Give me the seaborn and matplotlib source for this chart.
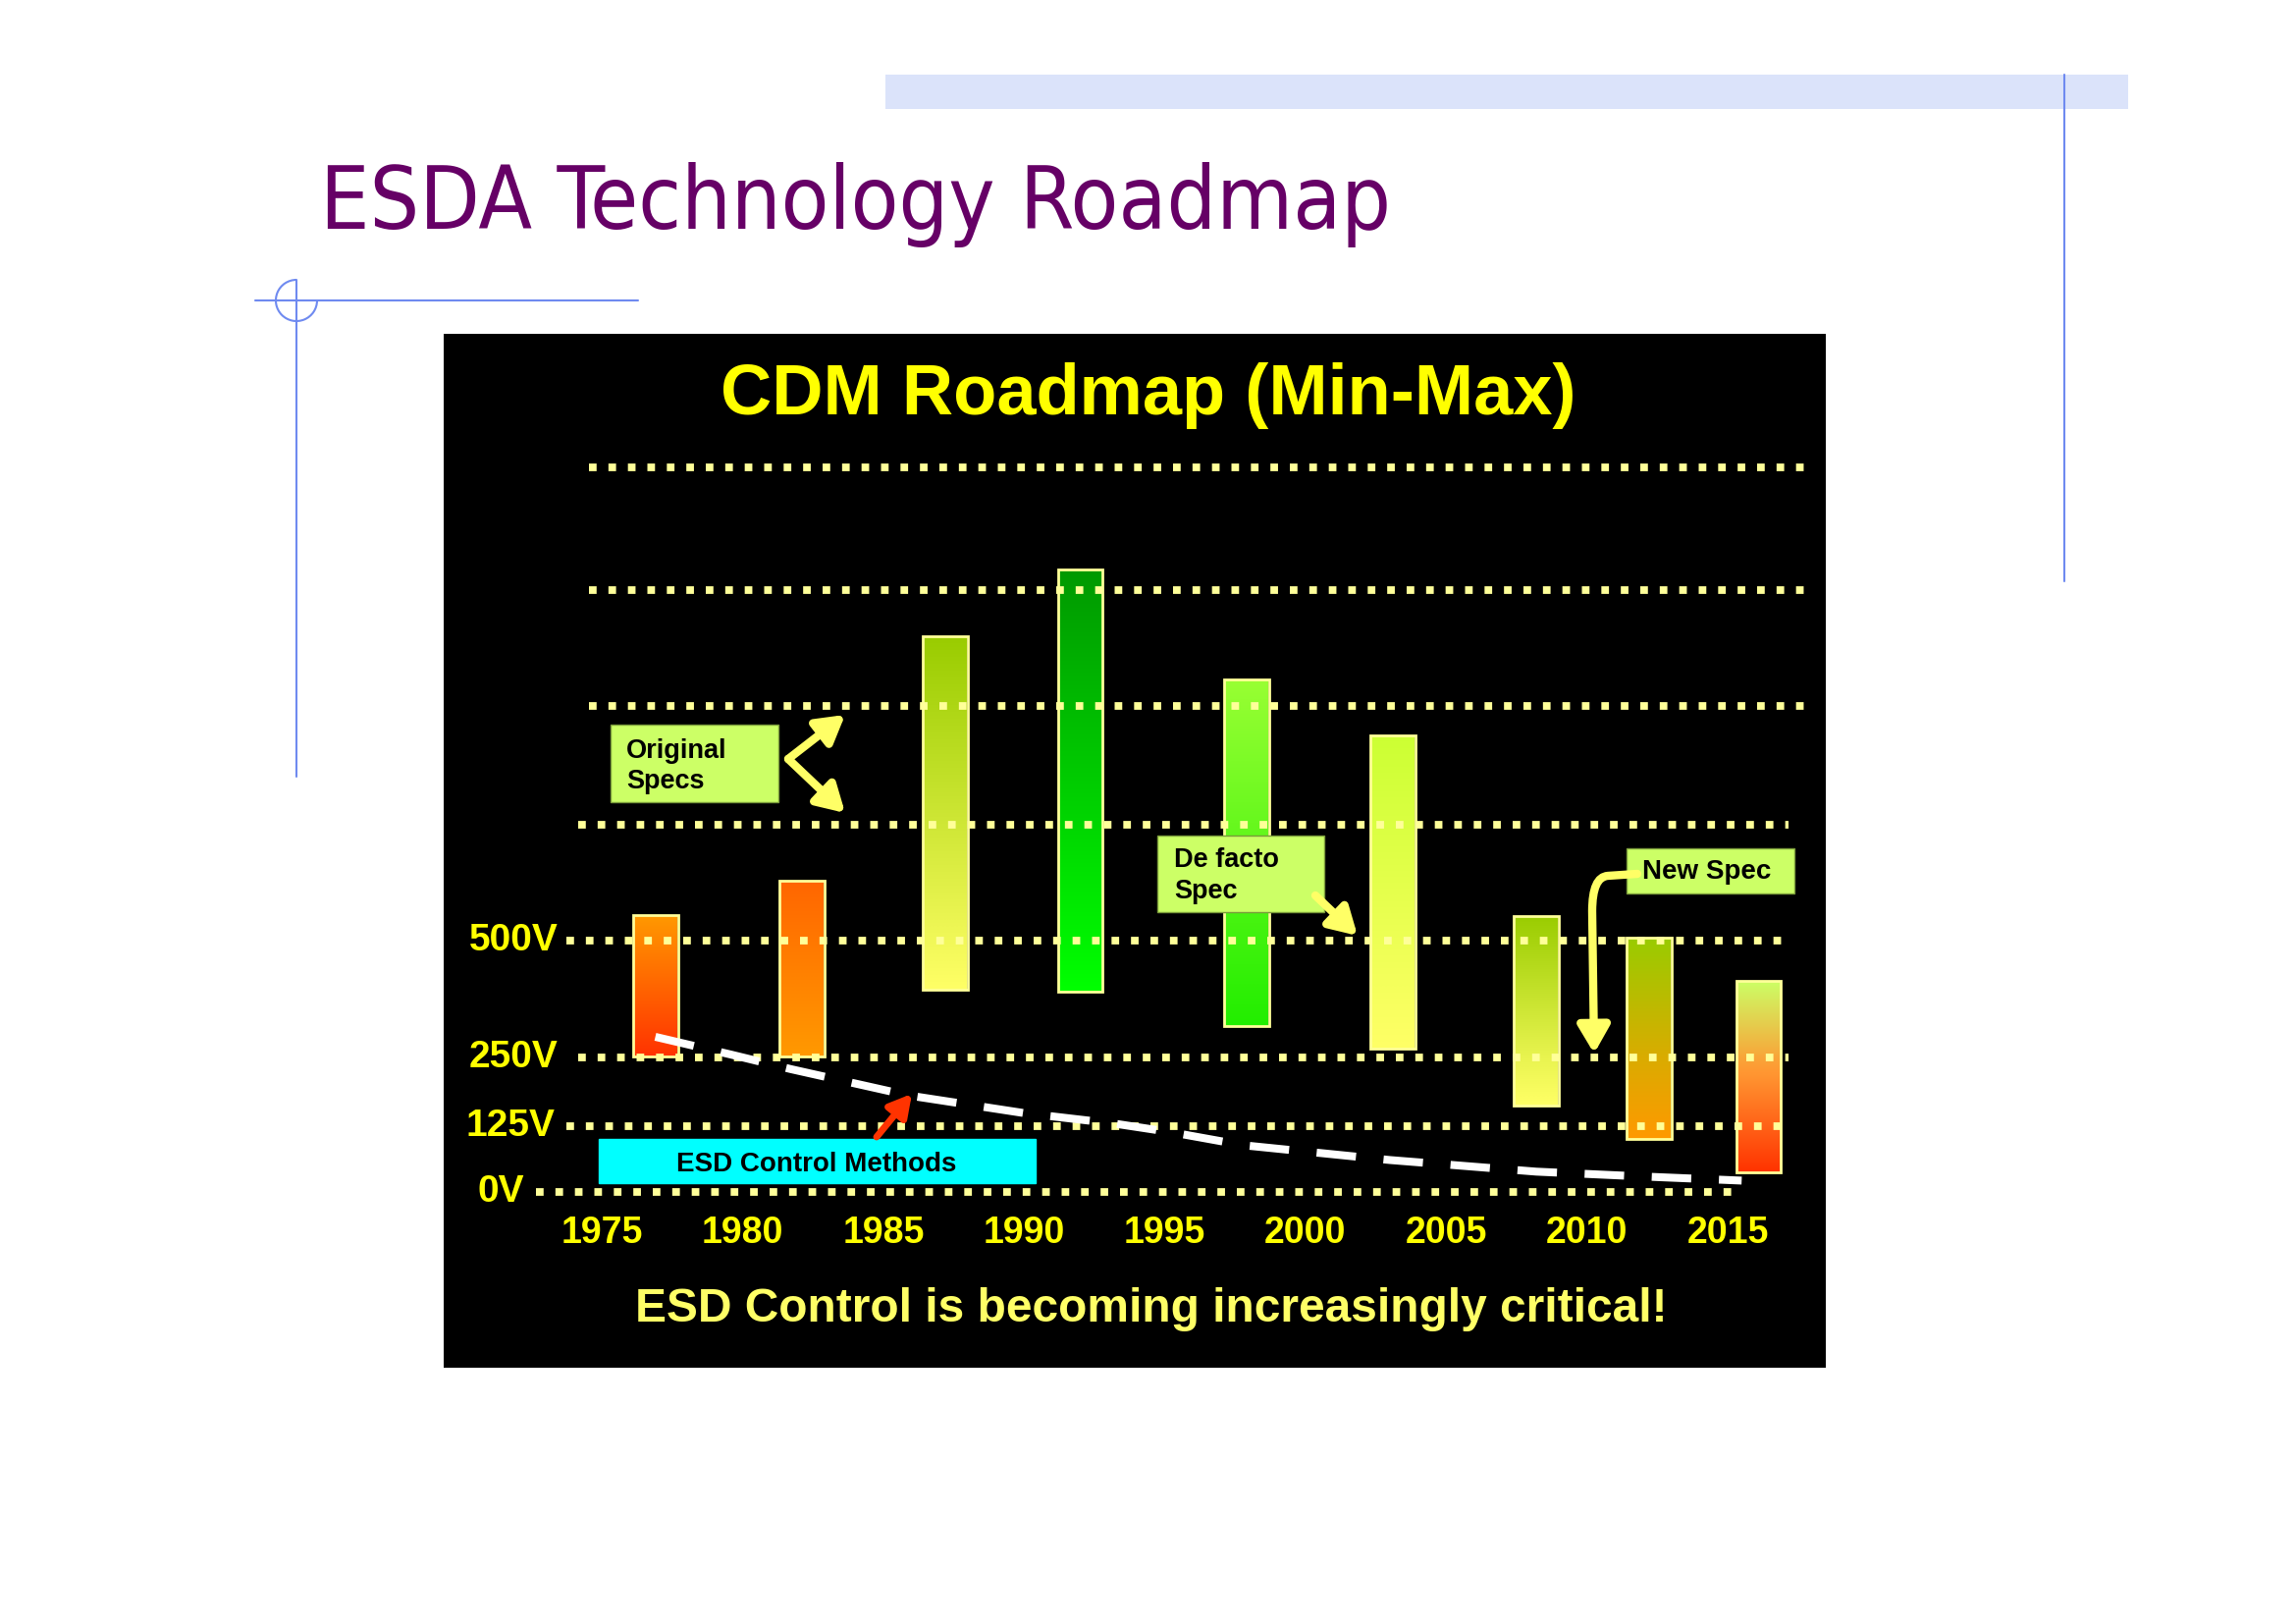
import matplotlib
matplotlib.use("Agg")
import matplotlib.pyplot as plt
import numpy as np
import seaborn as sns
from matplotlib.colors import LinearSegmentedColormap
from matplotlib.patches import Rectangle, FancyArrowPatch, Arc
from matplotlib.path import Path

W, H = 2339, 1653

# ---- data ----
YEAR_TICKS = [1975, 1980, 1985, 1990, 1995, 2000, 2005, 2010, 2015]
LEVELS = [0, 125, 250, 500, 750, 1000, 1250, 1500]
LEVEL_NAMES = ["0V", "125V", "250V", "500V"]

BAR_YEARS = [1976.9, 1982.1, 1987.2, 1992.0, 1997.9, 2003.1, 2008.2, 2012.2, 2016.1]
BAR_MIN = [252, 252, 394, 390, 316, 269, 162, 101, 38]
BAR_MAX = [554, 628, 1150, 1292, 1057, 938, 553, 506, 413]
BAR_COLORS = [  # top -> bottom
    ["#ff9900", "#ff3300"],
    ["#ff6600", "#ff9900"],
    ["#99cc00", "#ffff66"],
    ["#009900", "#00ff00"],
    ["#99ff33", "#22ee00"],
    ["#ccff33", "#ffff66"],
    ["#99cc00", "#ffff66"],
    ["#99cc00", "#ff9900"],
    ["#ccff66", "#ff9933", "#ff3300"],
]

TREND_YEARS = [1976.9, 1979.6, 1981.7, 1985.9, 1990.0, 1993.2, 1995.2, 1997.8, 2003.0, 2008.2, 2011.9, 2015.5]
TREND_VOLTS = [294, 256, 229, 181, 149, 130, 114, 89, 61, 39, 30, 22]

# ---- layout helpers (not data) ----
# the slide's voltage axis is piecewise linear
VOLT_KNOTS = [-1000, 0, 125, 250, 500, 750, 1000, 1250, 1500, 3000]
POS_KNOTS = [-360, 0, 45, 92, 172, 251, 332, 411, 495, 999]
GRID_X0 = [1972.66, 1973.75, 1974.17, 1973.75, 1974.17, 1974.53, 1974.53, 1974.53]
GRID_X1 = [2015.52, 2016.98, 2017.18, 2016.98, 2017.18, 2018.12, 2018.12, 2018.12]
LABEL_X = [1972.24, 1973.34, 1973.44, 1973.44]


def fwd(v):
    return np.interp(v, VOLT_KNOTS, POS_KNOTS)


def inv(p):
    return np.interp(p, POS_KNOTS, VOLT_KNOTS)


def fp(x, y):
    return x / W, 1 - y / H


sns.set_theme(style="white")
plt.rcParams["font.family"] = ["Liberation Sans", "DejaVu Sans"]

fig = plt.figure(figsize=(W / 100, H / 100), dpi=100, facecolor="white")

# ---- slide decoration ----
fig.add_artist(Rectangle(fp(902, 111), (2168 - 902) / W, 35 / H, transform=fig.transFigure,
                         facecolor="#dbe3fa", edgecolor="none"))
blue = "#6f8af0"
fig.add_artist(plt.Line2D([2103 / W] * 2, [fp(0, 76)[1], fp(0, 592)[1]], transform=fig.transFigure,
                          color=blue, lw=1.5))
fig.add_artist(plt.Line2D([260 / W, 650 / W], [fp(0, 306)[1]] * 2, transform=fig.transFigure,
                          color=blue, lw=1.5))
fig.add_artist(plt.Line2D([302 / W] * 2, [fp(0, 285)[1], fp(0, 791)[1]], transform=fig.transFigure,
                          color=blue, lw=1.5))
fig.add_artist(Arc(fp(302, 306), 42 / W, 42 / H, theta1=90, theta2=360, transform=fig.transFigure,
                   color=blue, lw=1.5))

fig.text(*fp(326, 233), "ESDA Technology Roadmap", color="#660066", fontsize=64,
         family="DejaVu Sans", fontstretch="condensed", ha="left", va="baseline")

# ---- chart panel ----
ax = fig.add_axes([452 / W, 1 - 1393 / H, (1860 - 452) / W, (1393 - 340) / H])
ax.set_facecolor("black")
ax.set_yscale("function", functions=(fwd, inv))

# gradient bars
width = 1.6
for yr, lo, hi, cols in zip(BAR_YEARS, BAR_MIN, BAR_MAX, BAR_COLORS):
    cmap = LinearSegmentedColormap.from_list("bar", cols[::-1])
    grad = np.linspace(0, 1, 256).reshape(-1, 1)
    ax.imshow(grad, cmap=cmap, extent=(yr - width / 2, yr + width / 2, lo, hi),
              origin="lower", aspect="auto", interpolation="bilinear", zorder=2)
ax.bar(BAR_YEARS, np.subtract(BAR_MAX, BAR_MIN), bottom=BAR_MIN, width=width,
       fill=False, edgecolor="#ffff99", linewidth=2, zorder=2.5)

# dotted level lines
for lvl, x0, x1 in zip(LEVELS, GRID_X0, GRID_X1):
    ax.plot([x0, x1], [lvl, lvl], color="#ffff99", lw=5.6, dashes=(1, 1.55), zorder=3)

for lvl, name, x in zip(LEVELS[:4], LEVEL_NAMES, LABEL_X):
    ax.text(x, lvl, name, ha="right", va="center", fontsize=28, fontweight="bold", color="#ffff00")

for yr in YEAR_TICKS:
    ax.text(yr, -96, str(yr), ha="center", va="baseline", fontsize=27, fontweight="bold", color="#ffff00")

# dashed ESD-control trend
sns.lineplot(x=TREND_YEARS, y=TREND_VOLTS, ax=ax, color="white", linewidth=5.8, zorder=4)
ax.lines[-1].set_linestyle((0, (5, 3.5)))

ax.set_xlim(1969.38, 2018.49)
ax.set_ylim(inv(-119.84), inv(586.07))
ax.set_xticks([])
ax.set_yticks([])
ax.minorticks_off()
for s in ax.spines.values():
    s.set_visible(False)

fig.text(*fp(1170, 422), "CDM Roadmap (Min-Max)", ha="center", va="baseline", fontsize=52,
         fontweight="bold", color="#ffff00")
fig.text(*fp(1173, 1346), "ESD Control is becoming increasingly critical!", ha="center",
         va="baseline", fontsize=34.5, fontweight="bold", color="#ffff66")

# ---- callout boxes ----
def box(x0, y0, x1, y1, fc, ec):
    fig.add_artist(Rectangle(fp(x0, y1), (x1 - x0) / W, (y1 - y0) / H, transform=fig.transFigure,
                             facecolor=fc, edgecolor=ec, lw=1, zorder=5))


def label(x, y, s, ha="left", size=19.5):
    fig.text(*fp(x, y), s, ha=ha, va="baseline", fontsize=size, fontweight="bold",
             color="black", zorder=6)


def arrow(p0, p1, color="#ffff66", lw=6, hl=0.55, hw=0.32):
    fig.add_artist(FancyArrowPatch(fp(*p0), fp(*p1), transform=fig.transFigure,
                                   arrowstyle=f"-|>,head_length={hl},head_width={hw}",
                                   mutation_scale=30, color=color, lw=lw,
                                   shrinkA=0, shrinkB=0, zorder=6))


box(622, 738, 793, 817, "#ccff66", "#7a9a3a")
label(638, 772, "Original")
label(638, 803, "Specs")
arrow((803, 773), (861, 728))
arrow((803, 773), (861, 828))

box(1179, 851, 1349, 929, "#ccff66", "#7a9a3a")
label(1196, 883, "De facto")
label(1196, 915, "Spec")
arrow((1340, 912), (1383, 953))

box(1657, 864, 1828, 910, "#ccff66", "#7a9a3a")
label(1673, 895, "New Spec", size=20)
verts = [fp(1668, 890), fp(1638, 892), fp(1622, 893), fp(1622, 928), fp(1624, 1073)]
codes = [Path.MOVETO, Path.LINETO, Path.CURVE3, Path.CURVE3, Path.LINETO]
fig.add_artist(FancyArrowPatch(path=Path(verts, codes), transform=fig.transFigure,
                               arrowstyle="-|>,head_length=0.55,head_width=0.32", mutation_scale=30,
                               color="#ffff66", lw=6, zorder=6))

box(610, 1160, 1055, 1205, "#00ffff", "#00ffff")
label(832, 1193, "ESD Control Methods", ha="center", size=20)
arrow((893, 1158), (929, 1114), color="#ff3300", lw=5, hl=0.45, hw=0.25)

fig.savefig("out.png", dpi=100, facecolor="white")
